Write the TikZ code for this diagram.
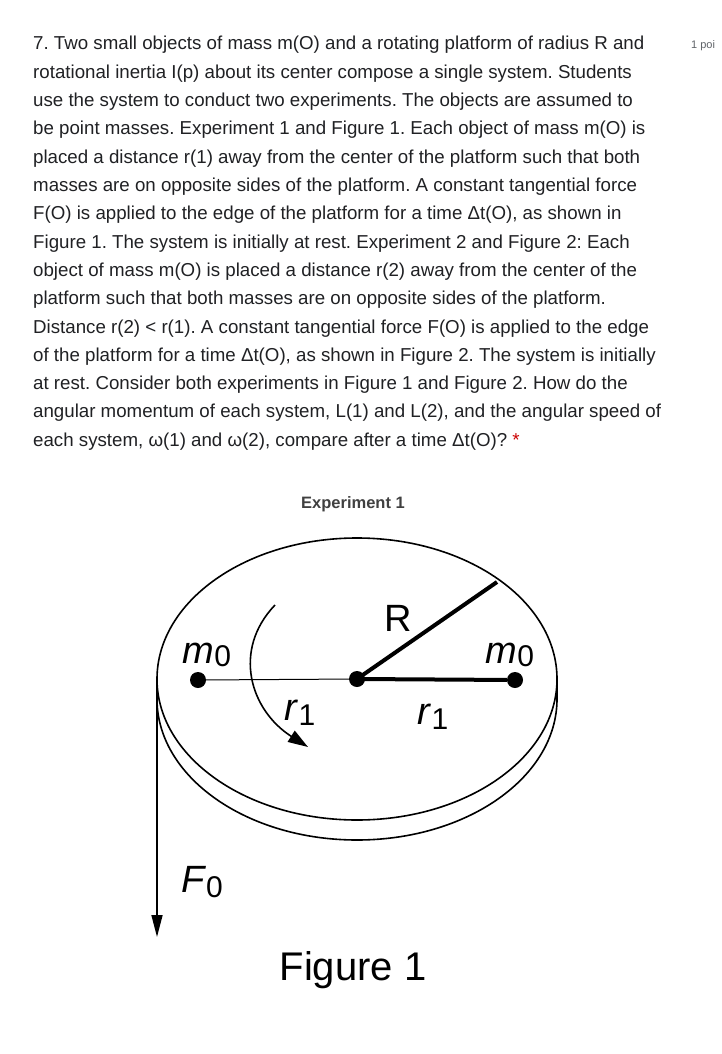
\documentclass[tikz,border=0pt]{standalone}
\usepackage{fontspec}
\setmainfont{Liberation Sans}
\usetikzlibrary{arrows.meta}
\definecolor{txt}{HTML}{202124}
\definecolor{gry}{HTML}{5F6368}
\begin{document}
\frenchspacing
\begin{tikzpicture}[x=1pt,y=-1pt,
  ln/.style={anchor=base west,inner sep=0,font=\frenchspacing\fontsize{18.7}{20}\selectfont,text=txt},
  lbl/.style={font=\fontsize{38}{40}\selectfont,inner sep=0},
  dot/.style={circle,fill=black,minimum size=16,inner sep=0}]
\useasboundingbox[fill=white] (0,0) rectangle (722,1054);
\node[anchor=base west,inner sep=0,font=\fontsize{11}{12}\selectfont,text=gry] (pts) at (691,49) {1 poi};
\foreach \i/\t in {0/{7. Two small objects of mass m(O) and a rotating platform of radius R and},
1/{rotational inertia I(p) about its center compose a single system. Students},
2/{use the system to conduct two experiments. The objects are assumed to},
3/{be point masses. Experiment 1 and Figure 1. Each object of mass m(O) is},
4/{placed a distance r(1) away from the center of the platform such that both},
5/{masses are on opposite sides of the platform. A constant tangential force},
6/{F(O) is applied to the edge of the platform for a time Δt(O), as shown in},
7/{Figure 1. The system is initially at rest. Experiment 2 and Figure 2: Each},
8/{object of mass m(O) is placed a distance r(2) away from the center of the},
9/{platform such that both masses are on opposite sides of the platform.},
10/{Distance r(2) < r(1). A constant tangential force F(O) is applied to the edge},
11/{of the platform for a time Δt(O), as shown in Figure 2. The system is initially},
12/{at rest. Consider both experiments in Figure 1 and Figure 2. How do the},
13/{angular momentum of each system, L(1) and L(2), and the angular speed of}}
  \node[ln] (l\i) at (33,{50+28.3*\i}) {\t};
\node[ln] (l14) at (33,{50+28.3*14}) {each system, ω(1) and ω(2), compare after a time Δt(O)? \textcolor{red!80!black}{*}};
% diagram
\node[font=\bfseries\fontsize{16.5}{18}\selectfont,text=black!75] (exp) at (353,504) {Experiment 1};
\coordinate (c) at (357,679);
\draw[line width=1.6] (c) ellipse [x radius=200,y radius=141];
\draw[line width=1.6] (157,679) -- (157,699) arc[start angle=180,end angle=0,x radius=200,y radius=141] -- (557,679);
\node[dot] (cen) at (c) {};
\node[dot] (ml) at (198,680) {};
\node[dot] (mr) at (515,680) {};
\coordinate (redge) at (497,582);
\draw[line width=1] (ml) -- (cen);
\draw[line width=4] (cen.center) -- (mr);
\draw[line width=4] (cen.center) -- (redge);
\node[lbl] (R) at (398,618) {R};
\node[lbl] (m1) at (207,655) {\textit{m}\raisebox{-3pt}{\fontsize{30}{30}\selectfont 0}};
\node[lbl] (m2) at (510,655) {\textit{m}\raisebox{-3pt}{\fontsize{30}{30}\selectfont 0}};
\node[lbl] (r1a) at (300,713) {\textit{r}\raisebox{-5pt}{\fontsize{30}{30}\selectfont 1}};
\node[lbl] (r1b) at (433,717) {\textit{r}\raisebox{-5pt}{\fontsize{30}{30}\selectfont 1}};
\coordinate (as) at (275,605);
\coordinate (ae) at (308,747);
\draw[line width=1.6,-{Triangle[length=20,width=13]}] (as) .. controls (232,650) and (250,710) .. (ae);
\coordinate (ft) at (157,679);
\coordinate (fb) at (157,937);
\draw[line width=1.6,-{Triangle[length=22,width=11]}] (ft) -- (fb);
\node[lbl] (F) at (202,882) {\textit{F}\raisebox{-5pt}{\fontsize{30}{30}\selectfont 0}};
\node[font=\fontsize{40}{42}\selectfont] (fig) at (353,970) {Figure 1};
\end{tikzpicture}
\end{document}
